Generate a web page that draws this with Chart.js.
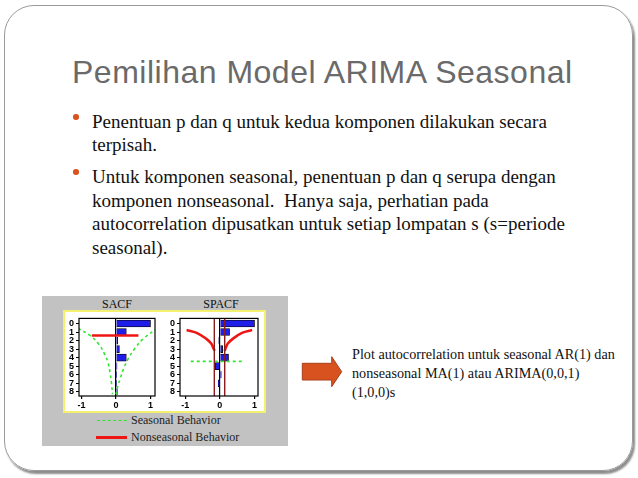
<!DOCTYPE html>
<html>
<head>
<meta charset="utf-8">
<script src="https://cdn.jsdelivr.net/npm/chart.js@4.4.1/dist/chart.umd.min.js"></script>
<style>
  html, body { margin: 0; padding: 0; background: #fff; }
  body { width: 638px; height: 478px; position: relative; overflow: hidden; }
  .slide { position: absolute; left: 4px; top: 5px; width: 627px; height: 464px;
    border: 1.5px solid #9a9a9a; border-radius: 30px; box-shadow: 2px 3px 2px rgba(0,0,0,0.45); }
  .title { position: absolute; left: 72px; top: 56.2px; font-family: "Liberation Sans", Arial, sans-serif;
    font-size: 32px; line-height: 32px; letter-spacing: 0.5px; color: #6a6a6a; white-space: nowrap; }
  .line { position: absolute; left: 92px; font-family: "Liberation Serif", serif; font-size: 19px;
    line-height: 20px; color: #111; white-space: nowrap; }
  .dot { position: absolute; left: 73px; width: 5.5px; height: 5.5px; border-radius: 50%; background: #d9531e; }
  .figure { position: absolute; left: 42px; top: 296px; width: 246px; height: 150px; background: #c2c2c2; }
  .frame { position: absolute; left: 63px; top: 310px; width: 199px; height: 99px; background: #fff;
    border: 2px solid #f4f070; }
  .ptitle { position: absolute; top: 298px; font-family: "Liberation Serif", serif; font-size: 12px;
    line-height: 12px; color: #111; transform: translateX(-50%); white-space: nowrap; }
  .leg { position: absolute; left: 131px; font-family: "Liberation Serif", serif; font-size: 12px;
    line-height: 12px; color: #222; white-space: nowrap; }
  .note { position: absolute; left: 352px; font-family: "Liberation Serif", serif; font-size: 14.2px;
    line-height: 14px; color: #111; white-space: nowrap; }
  canvas { position: absolute; }
</style>
</head>
<body>
<div class="slide"></div>
<div class="title">Pemilihan Model ARIMA Seasonal</div>

<div class="dot" style="top:114px"></div>
<div class="line" style="top:111.6px">Penentuan p dan q untuk kedua komponen dilakukan secara</div>
<div class="line" style="top:135.3px">terpisah.</div>
<div class="dot" style="top:169px"></div>
<div class="line" style="top:166.9px">Untuk komponen seasonal, penentuan p dan q serupa dengan</div>
<div class="line" style="top:190.6px">komponen nonseasonal.&nbsp; Hanya saja, perhatian pada</div>
<div class="line" style="top:214.3px">autocorrelation dipusatkan untuk setiap lompatan s (s=periode</div>
<div class="line" style="top:238px">seasonal).</div>

<div class="figure"></div>
<div class="frame"></div>
<div class="ptitle" style="left:117px">SACF</div>
<div class="ptitle" style="left:221px">SPACF</div>
<div style="position:absolute; left:64px; top:311px; width:96px; height:102px;"><canvas id="sacf"></canvas></div>
<div style="position:absolute; left:165px; top:311px; width:98px; height:102px;"><canvas id="spacf"></canvas></div>

<div style="position:absolute; left:97px; top:420px; width:30px; border-top:1.5px dashed #33e533;"></div>
<div class="leg" style="top:414.3px">Seasonal Behavior</div>
<div style="position:absolute; left:96px; top:435.5px; width:31px; height:3px; background:#ee1515;"></div>
<div class="leg" style="top:431px">Nonseasonal Behavior</div>

<svg style="position:absolute; left:298px; top:352px;" width="50" height="40">
  <path d="M4.3 11.3 H33.7 V4.7 L43.7 19.7 L33.7 34.7 V28 H4.3 Z" fill="#d8521f" stroke="#a8401a" stroke-width="1"/>
</svg>
<div class="note" style="top:347.2px">Plot autocorrelation untuk seasonal AR(1) dan</div>
<div class="note" style="top:366.2px">nonseasonal MA(1) atau ARIMA(0,0,1)</div>
<div class="note" style="top:385.2px">(1,0,0)s</div>

<script>
// lags on the vertical axis, correlations on the horizontal axis
const lags = [0, 1, 2, 3, 4, 5, 6, 7, 8];
const xTicks = [-1, 0, 1];
const sacfValues = [1.0, 0.3, 0.05, 0.1, 0.3, 0.03, 0.01, 0.01, 0.04];
const spacfValues = [1.0, 0.28, -0.03, 0.08, 0.25, -0.13, 0.04, -0.05, -0.02];

// seasonal (green dashed) and nonseasonal (red) behaviour sketches
const sacfSeasonalLeftX = [-1.1, -0.75, -0.5, -0.34, -0.23, -0.17, -0.13, -0.1];
const sacfSeasonalLeftY = [0.55, 1.4, 2.4, 3.5, 4.6, 5.8, 7.0, 8.3];
const sacfSeasonalRightX = [1.2, 0.8, 0.55, 0.36, 0.22, 0.12, 0.05, 0.0];
const sacfSeasonalRightY = [0.55, 1.75, 2.9, 4.1, 5.3, 6.5, 7.4, 8.3];
const sacfNonseasonalX = [-0.7, 0.65];
const sacfNonseasonalY = [1.4, 1.4];

const spacfNonLeftX = [-0.96, -0.67, -0.39, -0.25, -0.19, -0.15];
const spacfNonLeftY = [0.77, 1.1, 1.8, 2.35, 2.85, 3.2];
const spacfNonRightX = [0.93, 0.64, 0.37, 0.23, 0.17, 0.14];
const spacfNonRightY = [0.77, 1.1, 1.8, 2.35, 2.85, 3.2];
const spacfSeasonalX = [-0.84, 0.69];
const spacfSeasonalY = [4.44, 4.44];
const spacfBoundX = [-0.16, 0.14];
const spacfBoundY = [-0.6, 8.5];

const green = '#33e533';
const red = '#ee1515';

function pts(xs, ys) {
    return xs.map((x, i) => ({ x: x, y: ys[i] }));
}

function lineSet(xs, ys, color, width, dash, tension) {
    return {
        type: 'scatter',
        data: pts(xs, ys),
        showLine: true,
        borderColor: color,
        backgroundColor: color,
        borderWidth: width,
        borderDash: dash || [],
        pointRadius: 0,
        tension: tension || 0,
        order: 0
    };
}

// black box round the plot area
const boxPlugin = {
    id: 'box',
    afterDatasetsDraw(chart) {
        const a = chart.chartArea;
        const ctx = chart.ctx;
        ctx.save();
        ctx.strokeStyle = '#000';
        ctx.lineWidth = 1.2;
        ctx.strokeRect(a.left, a.top, a.right - a.left, a.bottom - a.top);
        ctx.restore();
    }
};

const tickFont = { family: 'Liberation Sans', size: 9, weight: 'bold' };

function makeChart(id, values, lines, xmin, xmax) {
    const ctx = document.getElementById(id).getContext('2d');
    return new Chart(ctx, {
        type: 'bar',
        data: {
            datasets: [{
                type: 'bar',
                data: pts(values, lags),
                backgroundColor: '#1e1ee8',
                borderColor: '#000',
                borderWidth: 0.8,
                barThickness: 7,
                order: 1
            }].concat(lines)
        },
        plugins: [boxPlugin],
        options: {
            indexAxis: 'y',
            responsive: true,
            maintainAspectRatio: false,
            animation: false,
            layout: { padding: { top: 2, right: 5, left: 0, bottom: 0 } },
            plugins: { legend: { display: false }, tooltip: { enabled: false } },
            scales: {
                x: {
                    type: 'linear',
                    min: xmin,
                    max: xmax,
                    offset: false,
                    afterBuildTicks: s => { s.ticks = xTicks.map(v => ({ value: v })); },
                    afterFit: s => { s.height = 17; },
                    border: { display: false },
                    grid: {
                        offset: false,
                        drawTicks: true,
                        tickLength: 3,
                        tickColor: '#000',
                        color: c => (c.tick && c.tick.value === 0 ? '#000' : 'rgba(0,0,0,0)'),
                        lineWidth: 1.2
                    },
                    ticks: { color: '#000', padding: 1, maxRotation: 0, autoSkip: false, font: tickFont }
                },
                y: {
                    type: 'linear',
                    reverse: true,
                    min: -0.6,
                    max: 8.5,
                    offset: false,
                    afterBuildTicks: s => { s.ticks = lags.map(v => ({ value: v })); },
                    afterFit: s => { s.width = 15; },
                    border: { display: false },
                    grid: { offset: false, drawOnChartArea: false, tickLength: 3, tickColor: '#000' },
                    ticks: { color: '#000', padding: 2, autoSkip: false, font: tickFont }
                }
            }
        }
    });
}

makeChart('sacf', sacfValues, [
    lineSet(sacfSeasonalLeftX, sacfSeasonalLeftY, green, 1.6, [3, 3], 0.4),
    lineSet(sacfSeasonalRightX, sacfSeasonalRightY, green, 1.6, [3, 3], 0.4),
    lineSet(sacfNonseasonalX, sacfNonseasonalY, red, 2.6)
], -1.07, 1.13);

makeChart('spacf', spacfValues, [
    lineSet([spacfBoundX[0], spacfBoundX[0]], spacfBoundY, '#8b1c1c', 1.4),
    lineSet([spacfBoundX[1], spacfBoundX[1]], spacfBoundY, '#8b1c1c', 1.4),
    lineSet(spacfNonLeftX, spacfNonLeftY, red, 2.6, [], 0.4),
    lineSet(spacfNonRightX, spacfNonRightY, red, 2.6, [], 0.4),
    lineSet(spacfSeasonalX, spacfSeasonalY, green, 1.6, [3, 3])
], -1.15, 1.1);
</script>
</body>
</html>
